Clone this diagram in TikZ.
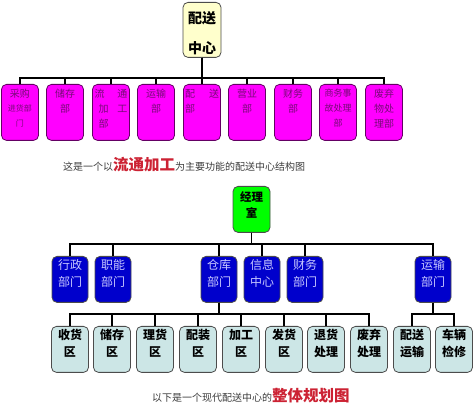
\documentclass[tikz,border=0pt]{standalone}
\usepackage{fontspec}
\setmainfont{Noto Sans CJK SC}
\definecolor{mag}{RGB}{255,0,255}
\definecolor{magb}{RGB}{100,0,100}
\definecolor{magt}{RGB}{120,10,120}
\definecolor{topy}{RGB}{255,255,204}
\definecolor{grn}{RGB}{0,255,0}
\definecolor{blu}{RGB}{0,0,204}
\definecolor{blut}{RGB}{200,200,255}
\definecolor{lcy}{RGB}{204,230,230}
\definecolor{capred}{RGB}{204,34,51}
\definecolor{capgray}{RGB}{60,60,60}
\newcommand\bxc[4]{\parbox[t][#1][t]{#2}{\vspace*{#3}\centering #4\par}}
\tikzset{
  box/.style={rounded corners=5pt, inner sep=0pt, line width=0.8pt, anchor=north},
  topbox/.style={box, fill=topy, draw=black!70, font=\fontsize{14}{30}\selectfont\bfseries},
  magbox/.style={box, fill=mag, draw=magb, text=magt, font=\fontsize{10}{15}\selectfont},
  grnbox/.style={box, fill=grn, draw=black!70, font=\fontsize{11.5}{16}\selectfont\bfseries},
  blubox/.style={box, fill=blu, draw=black!70, text=blut, font=\fontsize{12}{17}\selectfont},
  cyabox/.style={box, fill=lcy, draw=black!70, font=\fontsize{12}{17}\selectfont\bfseries},
  conn/.style={line width=1.6pt, black},
  caption/.style={anchor=west, inner sep=0pt, text=capgray, font=\fontsize{10}{12}\selectfont}
}
\newcommand\bigred[1]{{\color{capred}\fontsize{15.5}{16}\selectfont\bfseries #1}}
\begin{document}
\begin{tikzpicture}[x=1pt,y=-1pt]
\useasboundingbox (0,0) rectangle (474,411);
% ---- first chart
\node[topbox] (top) at (202,2) {\bxc{55pt}{38pt}{9pt}{配送\\中心}};
\node[magbox] (m1) at (20,84)  {\bxc{56pt}{37pt}{5pt}{采购\\{\fontsize{8}{14}\selectfont 进货部\\门}}};
\node[magbox] (m2) at (65,84)  {\bxc{56pt}{37pt}{5pt}{储存\\部}};
\node[magbox] (m3) at (111,84) {\bxc{56pt}{37pt}{5pt}{\makebox[33pt]{流\hfill 通}\\\makebox[33pt]{\hspace{4pt}加\hfill 工}\\\makebox[33pt][l]{\hspace{4pt}部}}};
\node[magbox] (m4) at (156,84) {\bxc{56pt}{37pt}{5pt}{运输\\部}};
\node[magbox] (m5) at (202,84) {\bxc{56pt}{37pt}{5pt}{\makebox[34pt]{配\hfill 送}\\\makebox[34pt][l]{部}}};
\node[magbox] (m6) at (247,84) {\bxc{56pt}{37pt}{5pt}{营业\\部}};
\node[magbox] (m7) at (293,84) {\bxc{56pt}{37pt}{5pt}{财务\\部}};
\node[magbox] (m8) at (338,84) {\bxc{56pt}{37pt}{5pt}{{\fontsize{9}{15}\selectfont 商务事\\故处理\\部}}};
\node[magbox] (m9) at (384,84) {\bxc{56pt}{37pt}{5pt}{废弃\\物处\\理部}};
\coordinate (bus1) at (0,78);
\foreach \i in {1,...,9}{
  \draw[conn] (top.south) -- (top.south |- bus1) -| (m\i.north);
}
\node[caption] (cap1) at (63,165) {这是一个以\bigred{流通加工}为主要功能的配送中心结构图};
% ---- second chart
\node[grnbox] (mgr) at (251.5,186) {\bxc{46pt}{37pt}{5pt}{经理\\室}};
\node[blubox] (b1) at (70,256)  {\bxc{46pt}{36pt}{3pt}{行政\\部门}};
\node[blubox] (b2) at (113,256) {\bxc{46pt}{36pt}{3pt}{职能\\部门}};
\node[blubox] (b3) at (219,256) {\bxc{46pt}{36pt}{3pt}{仓库\\部门}};
\node[blubox] (b4) at (262,256) {\bxc{46pt}{36pt}{3pt}{信息\\中心}};
\node[blubox] (b5) at (305,256) {\bxc{46pt}{36pt}{3pt}{财务\\部门}};
\node[blubox] (b6) at (433,256) {\bxc{46pt}{36pt}{3pt}{运输\\部门}};
\coordinate (bus2) at (0,244);
\foreach \i in {1,...,6}{
  \draw[conn] (mgr.south) -- (mgr.south |- bus2) -| (b\i.north);
}
\node[cyabox] (c1)  at (70,326)  {\bxc{46pt}{37pt}{3pt}{收货\\区}};
\node[cyabox] (c2)  at (112,326) {\bxc{46pt}{37pt}{3pt}{储存\\区}};
\node[cyabox] (c3)  at (155,326) {\bxc{46pt}{37pt}{3pt}{理货\\区}};
\node[cyabox] (c4)  at (198,326) {\bxc{46pt}{37pt}{3pt}{配装\\区}};
\node[cyabox] (c5)  at (241,326) {\bxc{46pt}{37pt}{3pt}{加工\\区}};
\node[cyabox] (c6)  at (284,326) {\bxc{46pt}{37pt}{3pt}{发货\\区}};
\node[cyabox] (c7)  at (326,326) {\bxc{46pt}{37pt}{3pt}{退货\\处理}};
\node[cyabox] (c8)  at (369,326) {\bxc{46pt}{37pt}{3pt}{废弃\\处理}};
\node[cyabox] (c9)  at (412,326) {\bxc{46pt}{37pt}{3pt}{配送\\运输}};
\node[cyabox] (c10) at (454,326) {\bxc{46pt}{37pt}{3pt}{车辆\\检修}};
\coordinate (bus3) at (0,314);
\foreach \i in {1,...,8}{
  \draw[conn] (b3.south) -- (b3.south |- bus3) -| (c\i.north);
}
\foreach \i in {9,10}{
  \draw[conn] (b6.south) -- (b6.south |- bus3) -| (c\i.north);
}
\node[caption] (cap2) at (152,396) {以下是一个现代配送中心的\bigred{整体规划图}};
\end{tikzpicture}
\end{document}
